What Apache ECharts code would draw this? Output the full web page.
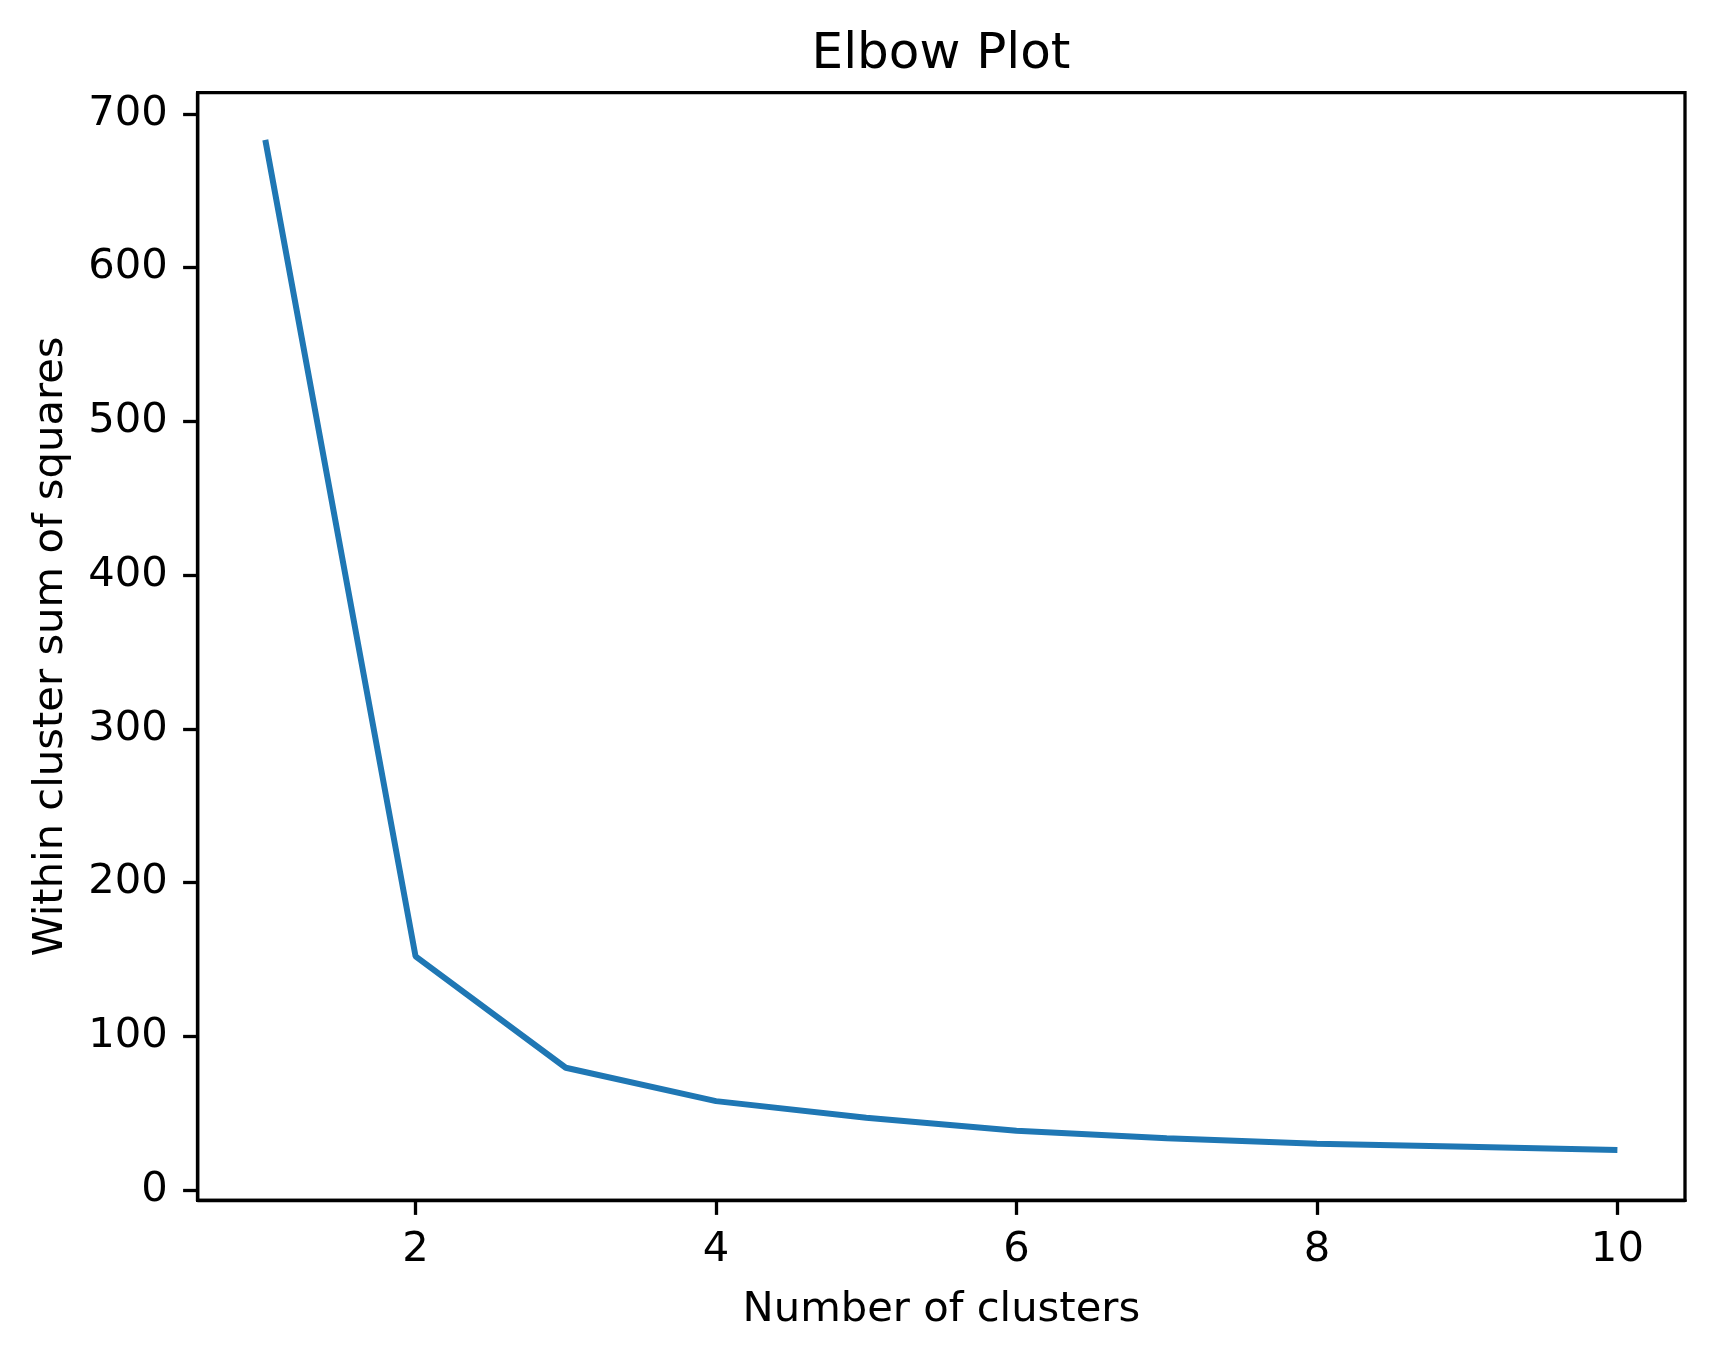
<!DOCTYPE html>
<html>
<head>
<meta charset="utf-8">
<title>Elbow Plot</title>
<script src="https://cdn.jsdelivr.net/npm/echarts@6/dist/echarts.min.js"></script>
<style>
  html, body { margin: 0; padding: 0; background: #fff; }
  #chart { width: 1715px; height: 1361px; }
</style>
</head>
<body>
<div id="chart"></div>
<script>
// number of clusters k and the within cluster sum of squares
var clusters = [1, 2, 3, 4, 5, 6, 7, 8, 9, 10];
var wcss = [683, 152, 79.5, 57.8, 47, 38.6, 33.6, 30.1, 28.2, 26];
var xTicks = [2, 4, 6, 8, 10];
var yTicks = [0, 100, 200, 300, 400, 500, 600, 700];

var FONT = '"DejaVu Sans", "Liberation Sans", sans-serif';

var points = [];
for (var i = 0; i < clusters.length; i++) {
  points.push([clusters[i], wcss[i]]);
}

var myChart = echarts.init(document.getElementById('chart'));

var option = {
  animation: false,
  backgroundColor: '#ffffff',
  grid: {
    left: 197.7,
    top: 92.7,
    right: 30,
    bottom: 160.7,
    show: true,
    borderColor: '#000',
    borderWidth: 3.3,
    backgroundColor: 'transparent'
  },
  graphic: [
    {
      type: 'text',
      x: 941,
      y: 55,
      style: {
        text: 'Elbow Plot',
        fill: '#000',
        font: '50px ' + FONT,
        align: 'center',
        verticalAlign: 'middle'
      }
    }
  ],
  xAxis: {
    type: 'value',
    min: 0.55,
    max: 10.45,
    name: 'Number of clusters',
    nameLocation: 'middle',
    nameGap: 89,
    nameTextStyle: { color: '#000', fontSize: 41.7, fontFamily: FONT },
    splitLine: { show: false },
    axisLine: { show: true, onZero: false, lineStyle: { color: '#000', width: 3.3 } },
    axisTick: {
      show: true,
      length: 14.6,
      lineStyle: { color: '#000', width: 3.3 },
      customValues: xTicks
    },
    axisLabel: {
      color: '#000',
      fontSize: 41.7,
      fontFamily: FONT,
      margin: 29,
      customValues: xTicks
    }
  },
  yAxis: {
    type: 'value',
    min: -6.7,
    max: 713.7,
    name: 'Within cluster sum of squares',
    nameLocation: 'middle',
    nameGap: 126,
    nameRotate: 90,
    nameTextStyle: { color: '#000', fontSize: 41.7, fontFamily: FONT },
    splitLine: { show: false },
    axisLine: { show: true, onZero: false, lineStyle: { color: '#000', width: 3.3 } },
    axisTick: {
      show: true,
      length: 14.6,
      lineStyle: { color: '#000', width: 3.3 },
      customValues: yTicks
    },
    axisLabel: {
      color: '#000',
      fontSize: 41.7,
      fontFamily: FONT,
      margin: 30,
      customValues: yTicks
    }
  },
  series: [
    {
      type: 'line',
      data: points,
      showSymbol: false,
      symbol: 'none',
      lineStyle: { color: '#1f77b4', width: 6 },
      itemStyle: { color: '#1f77b4' }
    }
  ]
};

myChart.setOption(option);
</script>
</body>
</html>
